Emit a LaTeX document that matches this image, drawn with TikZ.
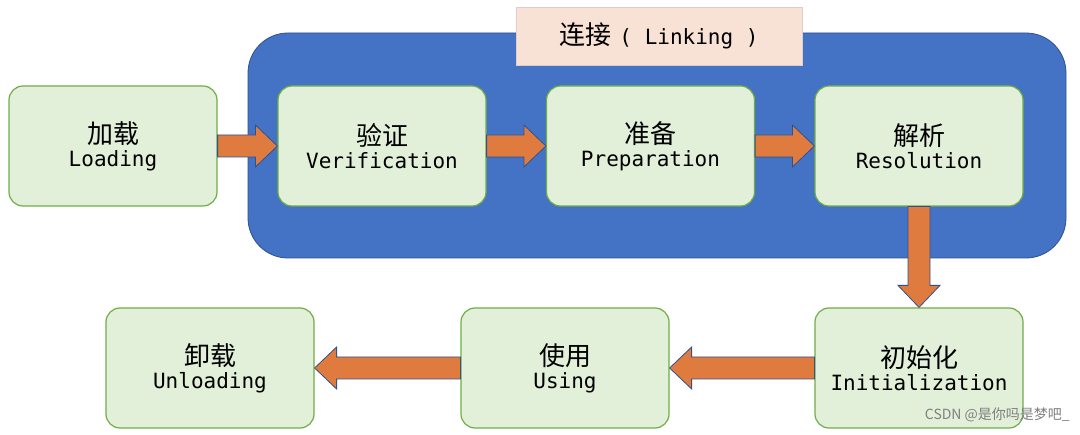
\documentclass[tikz,border=0pt]{standalone}
\usepackage{fontspec}
\newfontfamily\cjk{Noto Sans CJK SC}
\newfontfamily\mono{DejaVu Sans Mono}
\usetikzlibrary{calc}
\definecolor{boxfill}{HTML}{E2EFD9}
\definecolor{boxline}{HTML}{70AD47}
\definecolor{blu}{HTML}{4472C4}
\definecolor{bluline}{HTML}{2F528F}
\definecolor{orng}{HTML}{E07B3F}
\definecolor{peach}{HTML}{F8E2D6}
\tikzset{
 phase/.style={draw=boxline, line width=1.2pt, fill=boxfill, rounded corners=14pt, minimum width=208pt, minimum height=120pt, inner sep=0pt, align=center},
 fat/.style={fill=orng, draw=bluline, line width=0.8pt}
}
\newcommand{\lbl}[2]{{\cjk\fontsize{26}{30}\selectfont #1}\\[4pt]{\mono\fontsize{21}{24}\selectfont #2}}
\begin{document}
\begin{tikzpicture}[x=1pt,y=-1pt]
\useasboundingbox (0,0) rectangle (1080,435);
\fill[white] (0,0) rectangle (1080,435);
\node[draw=bluline, line width=0.8pt, fill=blu, rounded corners=40pt, minimum width=818pt, minimum height=225pt, inner sep=0pt] (link) at (657,145.5) {};
\node[fill=peach, draw=peach!80!gray, minimum width=286pt, minimum height=58pt, inner sep=0pt] (title) at (659,36) {{\cjk\fontsize{26}{30}\selectfont 连接}\hspace{8pt}{\mono\fontsize{21}{24}\selectfont ( Linking )}};
\node[phase] (load) at (113,146) {\lbl{加载}{Loading}};
\node[phase] (ver) at (382,146) {\lbl{验证}{Verification}};
\node[phase] (prep) at (650.5,146) {\lbl{准备}{Preparation}};
\node[phase] (res) at (919,146) {\lbl{解析}{Resolution}};
\node[phase] (init) at (919,368) {\lbl{初始化}{Initialization}};
\node[phase] (use) at (565,368) {\lbl{使用}{Using}};
\node[phase] (unl) at (210,368) {\lbl{卸载}{Unloading}};
\foreach \a/\b in {load/ver, ver/prep, prep/res}{
 \draw[fat] ($(\a.east)+(0,-11)$) -- ($(\b.west)+(-22,-11)$) -- ($(\b.west)+(-22,-21)$) -- (\b.west)
   -- ($(\b.west)+(-22,21)$) -- ($(\b.west)+(-22,11)$) -- ($(\a.east)+(0,11)$) -- cycle;
}
\draw[fat] ($(res.south)+(-11,0)$) -- ($(init.north)+(-11,-22)$) -- ($(init.north)+(-21,-22)$) -- (init.north)
  -- ($(init.north)+(21,-22)$) -- ($(init.north)+(11,-22)$) -- ($(res.south)+(11,0)$) -- cycle;
\foreach \a/\b in {init/use, use/unl}{
 \draw[fat] ($(\a.west)+(0,-11)$) -- ($(\b.east)+(22,-11)$) -- ($(\b.east)+(22,-21)$) -- (\b.east)
   -- ($(\b.east)+(22,21)$) -- ($(\b.east)+(22,11)$) -- ($(\a.west)+(0,11)$) -- cycle;
}
\node[anchor=east, text=gray, inner sep=0pt] (wm) at (1070,415) {\fontsize{14}{16}\selectfont\cjk CSDN @是你吗是梦吧\_};
\end{tikzpicture}
\end{document}
